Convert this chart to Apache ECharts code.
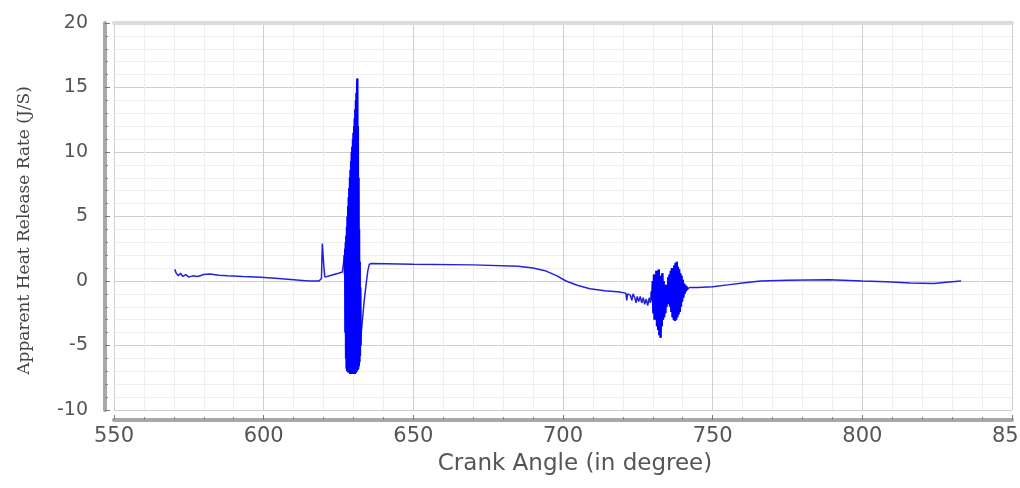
<!DOCTYPE html>
<html>
<head>
<meta charset="utf-8">
<script src="https://cdn.jsdelivr.net/npm/echarts@6/dist/echarts.min.js"></script>
<style>
html,body{margin:0;padding:0;background:#fff;}
#chart{width:1020px;height:488px;}
</style>
</head>
<body>
<div id="chart"></div>
<script>
// ---- data (crank angle in degrees, apparent heat release rate in J/S) ----
const xAxisTitle = 'Crank Angle (in degree)';
const yAxisTitle = 'Apparent Heat Release Rate (J/S)';
const xRange = [550, 850, 50];
const yRange = [-10, 20, 5];

const hrrIntake = [
  [570.3,0.9],[570.8,0.6],[571.5,0.4],[572.2,0.6],[573,0.35],[574,0.5],[575,0.3],[576.3,0.4],
  [578,0.35],[580,0.5],[582,0.55],[585,0.45],[588,0.4],[593,0.35],[599,0.3],[605,0.2],
  [610,0.1],[615,0.0],[618.5,0.0],[619.3,0.2],[619.6,2.9],[619.9,3.0],[620.2,0.8],[620.5,0.3],
  [621,0.3],[622,0.4],[623.5,0.5],[625,0.6],[626.3,0.7],[626.8,0.7]
];

const hrrSpike = [
  [627.0,2.0],[627.1,0.5],[627.2,2.5],[627.3,-4.0],[627.4,3.0],[627.5,-6.0],[627.6,3.5],[627.7,-6.8],
  [627.8,4.2],[627.9,-7.0],[628.0,5.0],[628.1,-7.0],[628.2,5.8],[628.3,-7.1],[628.4,6.5],[628.5,-7.0],
  [628.6,7.2],[628.7,-7.1],[628.8,8.0],[628.9,-7.2],[629.0,8.6],[629.1,-7.1],[629.2,9.3],[629.3,-7.2],
  [629.4,10.0],[629.5,-7.0],[629.6,10.4],[629.7,-7.2],[629.8,11.0],[629.9,-7.1],[630.0,11.5],[630.1,-7.2],
  [630.2,12.0],[630.3,-7.1],[630.4,12.6],[630.5,-7.2],[630.6,13.3],[630.7,-7.0],[630.8,14.0],[630.9,-7.1],
  [631.0,14.6],[631.1,-7.0],[631.2,15.2],[631.3,15.7],[631.4,-6.9],[631.5,12.0],[631.6,-6.8],[631.7,8.0],
  [631.8,-6.6],[631.9,4.0],[632.0,-6.3],[632.1,1.5],[632.2,-5.8],[632.3,-0.5],[632.4,-5.0]
];

const hrrExpansion = [
  [632.6,-4.0],[633.0,-3.0],[633.6,-1.5],[634.2,-0.3],[634.8,0.8],[635.3,1.3],[636,1.35],
  [650,1.3],[670,1.25],[685,1.15],[690,1.0],[694,0.8],[698,0.4],[701,0.0],[705,-0.35],
  [709,-0.6],[714,-0.75],[719,-0.85],[720,-0.9],[721,-0.95],[721.3,-1.5],[721.6,-1.0],
  [722.5,-1.1],[723,-1.5],[723.4,-1.0],[724,-1.3],[724.4,-1.7],[724.8,-1.2],[725.3,-1.6],
  [725.8,-1.2],[726.3,-1.7],[726.8,-1.3],[727.3,-1.8],[727.8,-1.4],[728.3,-1.9],[728.8,-1.3],[729.2,-1.7]
];

const hrrNoise = [
  [729.6,-0.8],[729.8,-1.5],[730.0,0.0],[730.2,-2.5],[730.4,0.5],[730.6,-3.0],[730.8,0.3],[731.0,-2.8],
  [731.2,0.8],[731.4,-3.5],[731.6,0.6],[731.8,-3.8],[732.0,0.9],[732.2,-4.2],[732.4,0.4],[732.6,-4.4],
  [732.8,0.2],[733.0,-3.5],[733.2,0.6],[733.4,-3.0],[733.6,0.0],[733.8,-2.8],[734.0,-0.3],[734.2,-2.5],
  [734.4,-0.5],[734.6,-2.0],[734.8,-0.3],[735.0,-1.8],[735.2,0.3],[735.4,-1.5],[735.6,0.5],[735.8,-2.0],
  [736.0,0.8],[736.2,-2.4],[736.4,1.0],[736.6,-2.8],[736.8,0.8],[737.0,-3.0],[737.2,1.2],[737.4,-3.1],
  [737.6,1.4],[737.8,-3.0],[738.0,1.5],[738.2,-2.8],[738.4,1.1],[738.6,-2.6],[738.8,0.9],[739.0,-2.4],
  [739.2,0.6],[739.4,-2.0],[739.6,0.4],[739.8,-1.6],[740.0,0.1],[740.2,-1.3],[740.4,-0.2],[740.6,-1.0],
  [740.8,-0.3],[741.0,-0.8],[741.2,-0.4],[741.4,-0.7]
];

const hrrExhaust = [
  [741.6,-0.6],[742.2,-0.5],[745,-0.5],[750,-0.45],[755,-0.3],[760,-0.15],[766,0.0],[775,0.05],
  [789,0.1],[800,0.0],[808,-0.05],[816,-0.15],[824,-0.2],[828,-0.1],[833,0.0]
];

const hrrData = [].concat(hrrIntake, hrrSpike, hrrExpansion, hrrNoise, hrrExhaust);

const chart = echarts.init(document.getElementById('chart'), null, {renderer:'canvas'});
chart.setOption({
  animation: false,
  backgroundColor: '#ffffff',
  grid: {left:114, right:8, top:23, bottom:78, containLabel:false, outerBoundsMode:'none'},
  xAxis: [{
    type:'value', min:xRange[0], max:xRange[1], interval:xRange[2],
    offset:10,
    name: xAxisTitle, nameLocation:'middle', nameGap:33,
    nameTextStyle:{fontFamily:'DejaVu Sans', fontSize:23, color:'#555', padding:[0,0,0,24]},
    axisLine:{show:true, onZero:false, lineStyle:{color:'#a8a8a8', width:4}},
    axisTick:{show:true, inside:true, length:5, lineStyle:{color:'#777'}},
    minorTick:{show:true, splitNumber:5, length:3, lineStyle:{color:'#888'}},
    axisLabel:{fontFamily:'DejaVu Sans', fontSize:21, color:'#555', margin:6},
    splitLine:{show:true, lineStyle:{color:'#cfcfcf', width:1}},
    minorSplitLine:{show:true, lineStyle:{color:'#eeeeee', width:1}}
  },{
    type:'value', position:'top', min:xRange[0], max:xRange[1], interval:xRange[2],
    axisLine:{show:true, onZero:false, lineStyle:{color:'#dcdcdc', width:4}},
    axisTick:{show:false}, axisLabel:{show:false}, splitLine:{show:false}
  }],
  yAxis: {
    type:'value', min:yRange[0], max:yRange[1], interval:yRange[2],
    offset:9,
    name: yAxisTitle, nameLocation:'middle', nameGap:72,
    nameTextStyle:{fontFamily:'DejaVu Serif', fontSize:17, color:'#444', padding:[0,28,0,0]},
    axisLine:{show:true, onZero:false, lineStyle:{color:'#a8a8a8', width:4}},
    axisTick:{show:true, inside:true, length:5, lineStyle:{color:'#777'}},
    minorTick:{show:true, splitNumber:5, length:3, lineStyle:{color:'#888'}},
    axisLabel:{fontFamily:'DejaVu Sans', fontSize:19, color:'#555', margin:17},
    splitLine:{show:true, lineStyle:{color:'#cfcfcf', width:1}},
    minorSplitLine:{show:true, lineStyle:{color:'#eeeeee', width:1}}
  },
  series: [{
    type:'line', data:hrrData, showSymbol:false, symbol:'none',
    lineStyle:{color:'#2222dd', width:1.5}, z:5
  },{
    type:'line', data:hrrSpike, showSymbol:false, symbol:'none',
    lineStyle:{color:'#0000ff', width:2.2}, z:6
  },{
    type:'line', data:hrrNoise, showSymbol:false, symbol:'none',
    lineStyle:{color:'#0000ff', width:2.4}, z:6
  }]
});
</script>
</body>
</html>
